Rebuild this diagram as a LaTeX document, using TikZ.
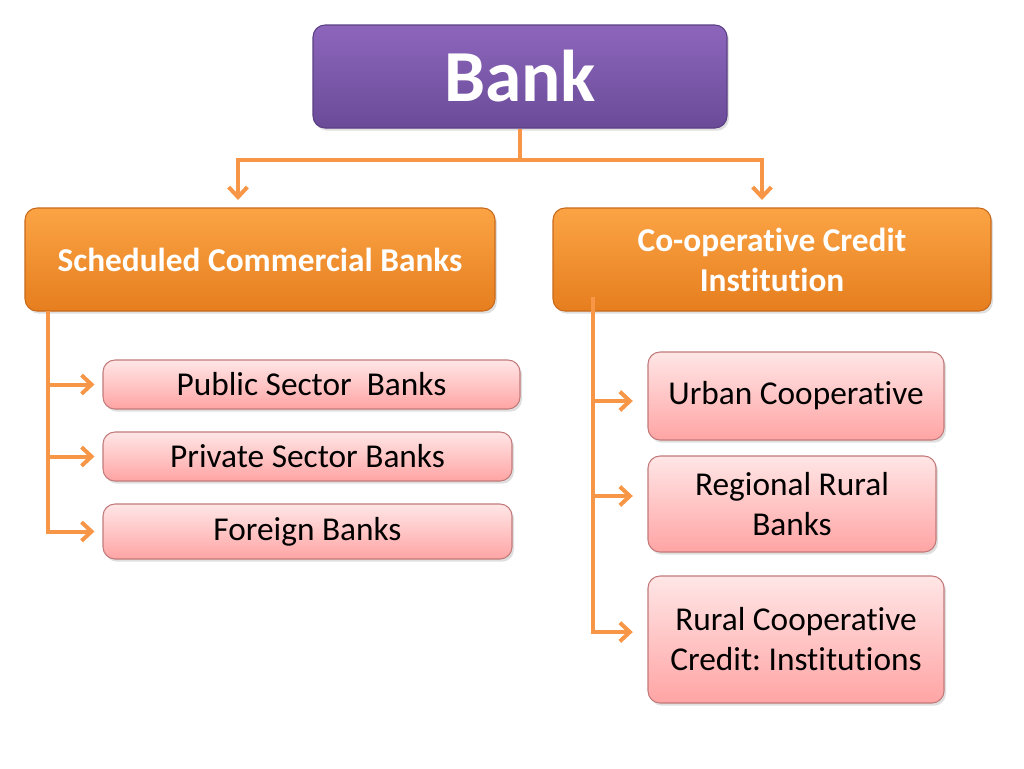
\documentclass[tikz,border=0pt]{standalone}
\usepackage{fontspec}
\setmainfont[Ligatures=NoCommon]{Carlito}
\usetikzlibrary{arrows.meta,shadows}
\definecolor{lineor}{HTML}{F79646}
\definecolor{purtop}{HTML}{8D66BC}
\definecolor{purbot}{HTML}{6A4B98}
\definecolor{purdraw}{HTML}{5A3F84}
\definecolor{ortop}{HTML}{FBA445}
\definecolor{orbot}{HTML}{E67E1E}
\definecolor{ordraw}{HTML}{C8691A}
\definecolor{pktop}{HTML}{FFE6E6}
\definecolor{pkbot}{HTML}{FFA4A4}
\definecolor{pkdraw}{HTML}{C27A7A}
\tikzset{
  boxbase/.style={rounded corners=9pt, inner sep=0pt, align=center,
    drop shadow={opacity=0.25, shadow xshift=1.5pt, shadow yshift=-2pt}},
  bankbox/.style={boxbase, draw=purdraw, line width=0.8pt, top color=purtop, bottom color=purbot,
    text=white, font=\fontsize{55}{60}\selectfont\bfseries},
  catbox/.style={boxbase, draw=ordraw, line width=0.8pt, top color=ortop, bottom color=orbot,
    text=white, font=\fontsize{25}{30}\selectfont\bfseries},
  subbox/.style={boxbase, draw=pkdraw, line width=0.8pt, top color=pktop, bottom color=pkbot,
    text=black, font=\fontsize{25}{30}\selectfont\frenchspacing},
  conn/.style={draw=lineor, line width=3pt},
  arr/.style={conn, -{Straight Barb[length=7.5pt,width=14pt,line width=3pt]}, shorten >=6pt}
}
\begin{document}
\begin{tikzpicture}[x=0.75pt,y=-0.75pt]
\useasboundingbox[fill=white] (0,0) rectangle (1024,768);
% nodes
\node[bankbox, minimum width=310.5pt, minimum height=77.25pt] (bank) at (520,76.5) {Bank};
\node[catbox, minimum width=352.5pt, minimum height=77.25pt] (scb) at (260,259.5) {Scheduled Commercial Banks};
\node[catbox, minimum width=328.5pt, minimum height=77.25pt] (coc) at (772,259.5) {Co-operative Credit\\Institution};
\node[subbox, minimum width=312.75pt, minimum height=36.75pt] (psb) at (311.5,384.5) {Public Sector\ \ Banks};
\node[subbox, minimum width=306.75pt, minimum height=36.75pt] (prsb) at (307.5,456.5) {Private Sector Banks};
\node[subbox, minimum width=306.75pt, minimum height=41.25pt] (fb) at (307.5,531.5) {Foreign Banks};
\node[subbox, minimum width=222pt, minimum height=66pt] (uc) at (796,396) {\raisebox{-3pt}{Urban Cooperative}};
\node[subbox, minimum width=216pt, minimum height=72pt] (rrb) at (792,504) {Regional Rural\\Banks};
\node[subbox, minimum width=222pt, minimum height=95.25pt] (rcc) at (796,639.5) {Rural Cooperative\\Credit: Institutions};
% coordinates
\coordinate (J) at (520,160);
\coordinate (JL) at (238,200);
\coordinate (JR) at (762,200);
\coordinate (L) at (48,311);
\coordinate (R) at (593,297);
% top connectors
\draw[conn] (bank.south) -- (J);
\draw[arr, shorten >=0pt] (J) -| (JL);
\draw[arr, shorten >=0pt] (J) -| (JR);
% left branch
\draw[arr] (L) |- (fb.west);
\draw[arr] (L |- psb.west) -- (psb.west);
\draw[arr] (L |- prsb.west) -- (prsb.west);
% right branch
\draw[arr, shorten >=11pt] (R) |- ([yshift=5.6pt]rcc.west);
\draw[arr, shorten >=11pt] (R |- uc.west) ++(0,5) -- ([yshift=-3.75pt]uc.west);
\draw[arr, shorten >=11pt] (R |- rrb.west) ++(0,-8) -- ([yshift=6pt]rrb.west);
\end{tikzpicture}
\end{document}
